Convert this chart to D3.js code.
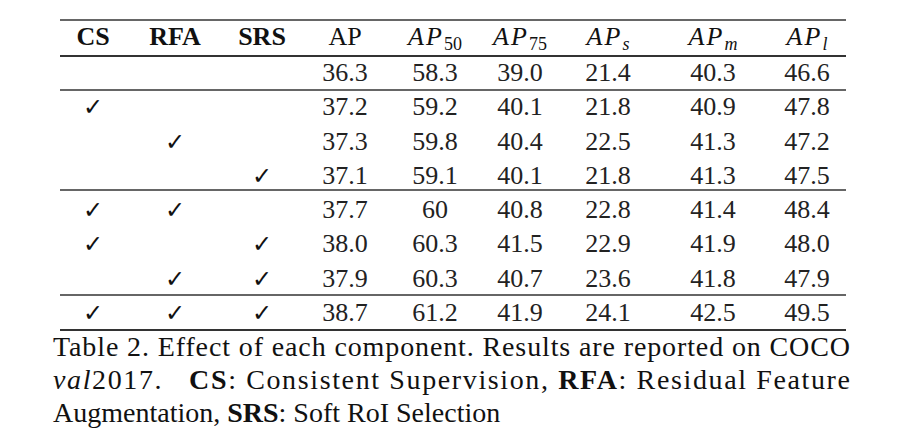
<!DOCTYPE html><html><head><meta charset="utf-8"><script src="https://cdn.jsdelivr.net/npm/d3@7"></script>
<style>body{margin:0;background:#fff} text{font-family:"Liberation Serif","Times New Roman",Times,serif}</style></head><body><svg id="c" width="898" height="437"></svg>
<script>
const headers = ["CS","RFA","SRS","AP","AP|50","AP|75","AP|s","AP|m","AP|l"];
const cs  = [0,1,0,0,1,1,0,1];
const rfa = [0,0,1,0,1,0,1,1];
const srs = [0,0,0,1,0,1,1,1];
const AP   = ["36.3","37.2","37.3","37.1","37.7","38.0","37.9","38.7"];
const AP50 = ["58.3","59.2","59.8","59.1","60","60.3","60.3","61.2"];
const AP75 = ["39.0","40.1","40.4","40.1","40.8","41.5","40.7","41.9"];
const APs  = ["21.4","21.8","22.5","21.8","22.8","22.9","23.6","24.1"];
const APm  = ["40.3","40.9","41.3","41.3","41.4","41.9","41.8","42.5"];
const APl  = ["46.6","47.8","47.2","47.5","48.4","48.0","47.9","49.5"];
const svg = d3.select("#c");
const cx = [93,175,262,345,435,520,608,713,807];
const rowY = d3.scaleLinear().domain([0,7]).range([73,313]);
const rules = [[20,1.6],[56,2],[90,1.6],[190,1.6],[295,1.6],[330,2]];
svg.selectAll("line.r").data(rules).join("line").attr("x1",60).attr("x2",846)
 .attr("y1",d=>d[0]).attr("y2",d=>d[0]).attr("stroke","#333").attr("stroke-width",d=>d[1]);
headers.forEach((h,i)=>{
  const t = svg.append("text").attr("x",cx[i]).attr("y",45).attr("text-anchor","middle")
   .attr("font-size",26).attr("fill","#111");
  if(i<3) t.attr("font-weight","bold").text(h);
  else if(i===3) t.text("AP");
  else { const [a,s]=h.split("|"); t.append("tspan").attr("font-style","italic").attr("letter-spacing",2).text(a);
    t.append("tspan").attr("font-size",18).attr("dy",5).attr("font-style",/[a-z]/.test(s)?"italic":"normal").text(s); }
});
const flags=[cs,rfa,srs], vals=[AP,AP50,AP75,APs,APm,APl];
for(let r=0;r<8;r++){
  flags.forEach((f,i)=>{ if(f[r]) svg.append("text").attr("x",cx[i]).attr("y",rowY(r)+8).attr("text-anchor","middle")
    .style("font-family","'DejaVu Sans',sans-serif").attr("font-weight","bold").attr("font-size",24).attr("fill","#111").text("✓"); });
  vals.forEach((v,i)=>svg.append("text").attr("x",cx[i+3]).attr("y",rowY(r)+8).attr("text-anchor","middle")
    .attr("font-size",26).attr("fill","#222").text(v[r]));
}
const cap=[
 [{t:"Table 2. Effect of each component. Results are reported on COCO"}],
 [{t:"val",i:1},{t:"2017.   "},{t:"CS",b:1},{t:": Consistent Supervision, "},{t:"RFA",b:1},{t:": Residual Feature"}],
 [{t:"Augmentation, "},{t:"SRS",b:1},{t:": Soft RoI Selection"}]];
cap.forEach((l,k)=>{
  const t=svg.append("text").attr("x",53).attr("y",356+k*33).attr("font-size",28).attr("fill","#111")
   .attr("xml:space","preserve");
  if(k<2) t.attr("textLength",797).attr("lengthAdjust","spacing");
  l.forEach(s=>t.append("tspan").attr("font-weight",s.b?"bold":null).attr("font-style",s.i?"italic":null).text(s.t));
});
</script></body></html>
